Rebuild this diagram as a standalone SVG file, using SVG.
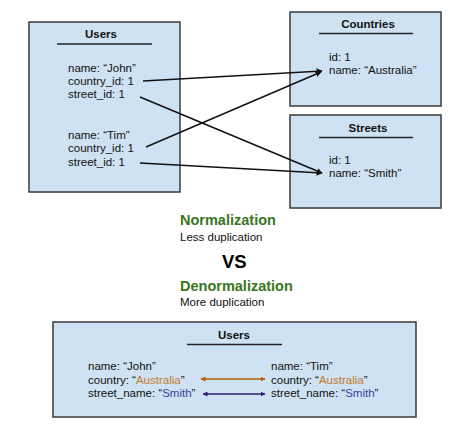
<svg xmlns="http://www.w3.org/2000/svg" width="474" height="434" viewBox="0 0 474 434">
<defs>
<style>
.box{fill:#cfe2f3;stroke:#3a3a3a;stroke-width:1.5}
.t{font-family:"Liberation Sans",Arial,sans-serif;font-size:11.5px;fill:#111}
.h{font-family:"Liberation Sans",Arial,sans-serif;font-size:11.5px;font-weight:bold;fill:#111;text-anchor:middle}
.ul{stroke:#222;stroke-width:1.5}
.g{font-family:"Liberation Sans",Arial,sans-serif;font-size:14.5px;font-weight:bold;fill:#38761d}
.conn{stroke:#111;stroke-width:1.5;fill:none}
.or{fill:#c27a2a}
.pu{fill:#3d3d9a}
</style>
<marker id="ah" viewBox="0 0 10 10" refX="9" refY="5" markerWidth="6" markerHeight="6" orient="auto" markerUnits="userSpaceOnUse">
<path d="M0,0 L10,5 L0,10 z" fill="#111"/>
</marker>
<marker id="ahO" viewBox="0 0 10 10" refX="9" refY="5" markerWidth="5" markerHeight="5" orient="auto-start-reverse" markerUnits="userSpaceOnUse">
<path d="M0,0 L10,5 L0,10 z" fill="#b45f06"/>
</marker>
<marker id="ahP" viewBox="0 0 10 10" refX="9" refY="5" markerWidth="5" markerHeight="5" orient="auto-start-reverse" markerUnits="userSpaceOnUse">
<path d="M0,0 L10,5 L0,10 z" fill="#351c75"/>
</marker>
</defs>
<rect width="474" height="434" fill="#fff"/>

<g id="users">
<rect class="box" x="29" y="22" width="151" height="170"/>
<text class="h" x="101" y="38">Users</text>
<line class="ul" x1="57" y1="44" x2="152" y2="44"/>
<text class="t" x="68" y="72">name: “John”</text>
<text class="t" x="68" y="85">country_id: 1</text>
<text class="t" x="68" y="98">street_id: 1</text>
<text class="t" x="68" y="139">name: “Tim”</text>
<text class="t" x="68" y="152">country_id: 1</text>
<text class="t" x="68" y="166">street_id: 1</text>
</g>

<g id="countries">
<rect class="box" x="290" y="12" width="151" height="94"/>
<text class="h" x="368" y="28">Countries</text>
<line class="ul" x1="319" y1="33.5" x2="413" y2="33.5"/>
<text class="t" x="329" y="61">id: 1</text>
<text class="t" x="329" y="74">name: “Australia”</text>
</g>

<g id="streets">
<rect class="box" x="290" y="115" width="151" height="93"/>
<text class="h" x="368" y="132">Streets</text>
<line class="ul" x1="319" y1="137.5" x2="413" y2="137.5"/>
<text class="t" x="329" y="164">id: 1</text>
<text class="t" x="329" y="177">name: “Smith”</text>
</g>

<g id="labels">
<text class="g" x="180" y="225">Normalization</text>
<text class="t" x="180" y="241">Less duplication</text>
<text x="222" y="268" font-family="Liberation Sans, Arial, sans-serif" font-size="18.5px" font-weight="bold" fill="#000">VS</text>
<text class="g" x="180" y="291">Denormalization</text>
<text class="t" x="180" y="306">More duplication</text>
</g>

<g id="users-denorm">
<rect class="box" x="53" y="322" width="363" height="95"/>
<text class="h" x="234" y="339">Users</text>
<line class="ul" x1="187" y1="344.5" x2="282" y2="344.5"/>
<text class="t" x="88" y="370">name: “John”</text>
<text class="t" x="88" y="384">country: “<tspan class="or">Australia</tspan>”</text>
<text class="t" x="88" y="397">street_name: “<tspan class="pu">Smith</tspan>”</text>
<text class="t" x="271" y="370">name: “Tim”</text>
<text class="t" x="271" y="384">country: “<tspan class="or">Australia</tspan>”</text>
<text class="t" x="271" y="397">street_name: “<tspan class="pu">Smith</tspan>”</text>
</g>

<g id="connectors">
<line class="conn" x1="143" y1="81" x2="322" y2="71" marker-end="url(#ah)"/>
<line class="conn" x1="146" y1="147" x2="321" y2="72" marker-end="url(#ah)"/>
<line class="conn" x1="140" y1="97" x2="322" y2="173" marker-end="url(#ah)"/>
<line class="conn" x1="140" y1="163" x2="322" y2="173" marker-end="url(#ah)"/>
<line x1="201" y1="379" x2="265" y2="379" stroke="#b45f06" stroke-width="1.5" marker-start="url(#ahO)" marker-end="url(#ahO)"/>
<line x1="203" y1="394" x2="265" y2="394" stroke="#351c75" stroke-width="1.5" marker-start="url(#ahP)" marker-end="url(#ahP)"/>
</g>
</svg>
